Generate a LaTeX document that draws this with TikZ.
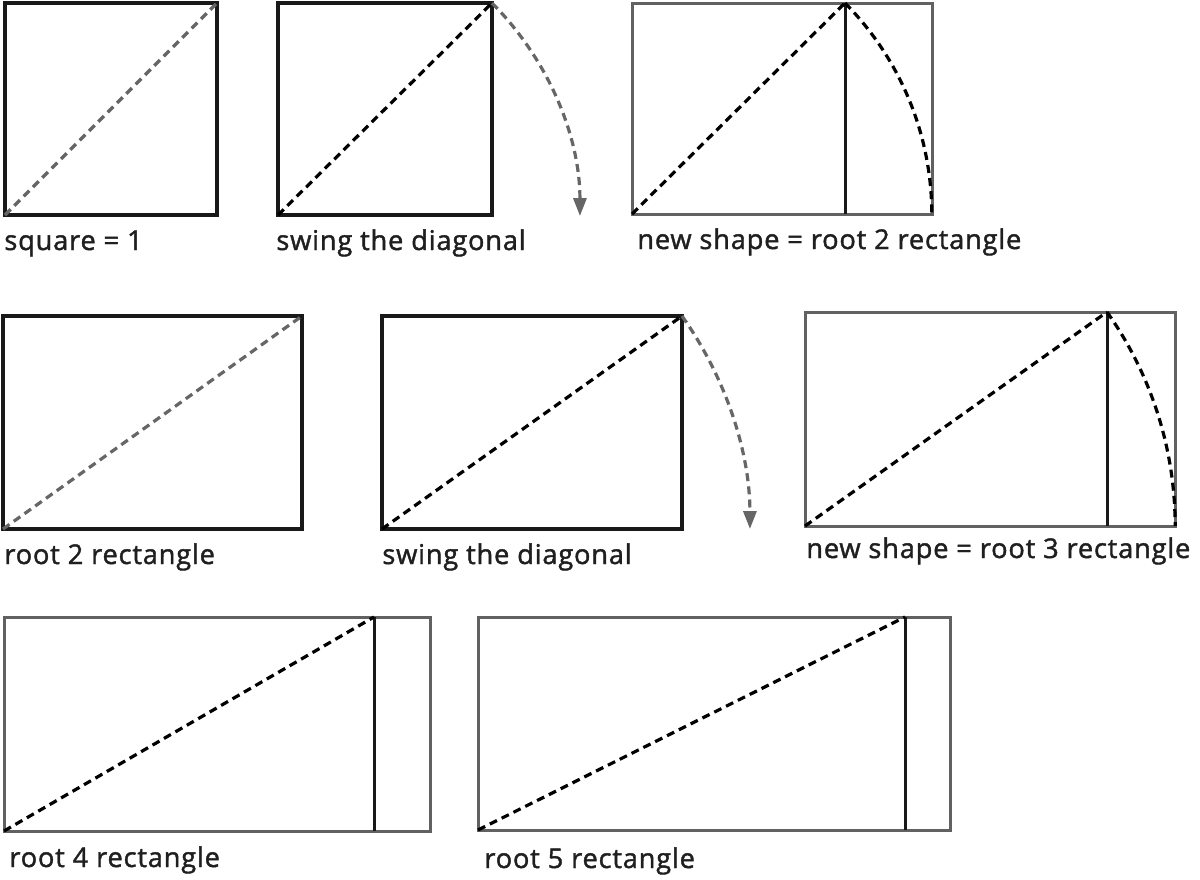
\documentclass[tikz,border=0pt]{standalone}
\usepackage{fontspec}
\setmainfont{Open Sans}
\newfontfamily\lblfont{Open Sans}[FakeBold=1.5,LetterSpace=3]
\usetikzlibrary{arrows.meta}
\begin{document}
\begin{tikzpicture}[x=0.5pt,y=0.5pt,
  thickbox/.style={draw=black!90,line width=2pt},
  thinbox/.style={draw=black!62,line width=1.5pt},
  divider/.style={draw=black!90,line width=1.5pt},
  diag/.style={draw=black,line width=1.6pt,dash pattern=on 4pt off 2.6pt},
  greydiag/.style={diag,draw=black!60},
  swing/.style={diag,draw=black!60,-{Triangle[length=9pt,width=6.5pt]}},
  lbl/.style={anchor=base west,inner sep=0pt,font=\lblfont\fontsize{13.6}{16}\selectfont,text=black!88}]
\useasboundingbox (0,0) rectangle (1200,-879);

% ---- row 1 ----
% square = 1
\coordinate (a1) at (5,-215); \coordinate (a2) at (217,-3);
\draw[thickbox] (a1) rectangle (a2);
\draw[greydiag] (a1) -- (a2);
\node[lbl] (la) at (4,-250) {square = 1};

% swing the diagonal
\coordinate (b1) at (278,-215); \coordinate (b2) at (492,-3);
\draw[thickbox] (b1) rectangle (b2);
\draw[diag] (b1) -- (b2);
\draw[swing] (b2) arc[start angle=44.86, end angle=0, radius=302];
\node[lbl] (lb) at (276,-250) {swing the diagonal};

% new shape = root 2 rectangle
\coordinate (c1) at (632,-214); \coordinate (c2) at (932,-3);
\coordinate (cv) at (845,-3); \coordinate (cb) at (845,-214);
\draw[thinbox] (c1) rectangle (c2);
\draw[divider] (cb) -- (cv);
\draw[diag] (c1) -- (cv);
\draw[diag] (cv) arc[start angle=44.7, end angle=0, radius=300];
\node[lbl] (lc) at (637,-249) {new shape = root 2 rectangle};

% ---- row 2 ----
% root 2 rectangle
\coordinate (d1) at (3,-529); \coordinate (d2) at (302,-316);
\draw[thickbox] (d1) rectangle (d2);
\draw[greydiag] (d1) -- (d2);
\node[lbl] (ld) at (4,-564) {root 2 rectangle};

% swing the diagonal
\coordinate (e1) at (382,-529); \coordinate (e2) at (682,-316);
\draw[thickbox] (e1) rectangle (e2);
\draw[diag] (e1) -- (e2);
\draw[swing] (e2) arc[start angle=35.37, end angle=0, radius=368];
\node[lbl] (le) at (382,-564) {swing the diagonal};

% new shape = root 3 rectangle
\coordinate (f1) at (805,-526); \coordinate (f2) at (1175,-312);
\coordinate (fv) at (1107,-312); \coordinate (fb) at (1107,-526);
\draw[thinbox] (f1) rectangle (f2);
\draw[divider] (fb) -- (fv);
\draw[diag] (f1) -- (fv);
\draw[diag] (fv) arc[start angle=35.33, end angle=0, radius=370];
\node[lbl] (lf) at (806,-558) {new shape = root 3 rectangle};

% ---- row 3 ----
% root 4 rectangle
\coordinate (g1) at (4,-831); \coordinate (g2) at (430,-617);
\coordinate (gv) at (374,-617); \coordinate (gb) at (374,-831);
\draw[thinbox] (g1) rectangle (g2);
\draw[divider] (gb) -- (gv);
\draw[diag] (g1) -- (gv);
\node[lbl] (lg) at (9,-867) {root 4 rectangle};

% root 5 rectangle
\coordinate (h1) at (478,-830); \coordinate (h2) at (950,-617);
\coordinate (hv) at (905,-617); \coordinate (hb) at (905,-830);
\draw[thinbox] (h1) rectangle (h2);
\draw[divider] (hb) -- (hv);
\draw[diag] (h1) -- (hv);
\node[lbl] (lh) at (484,-868) {root 5 rectangle};
\end{tikzpicture}
\end{document}
